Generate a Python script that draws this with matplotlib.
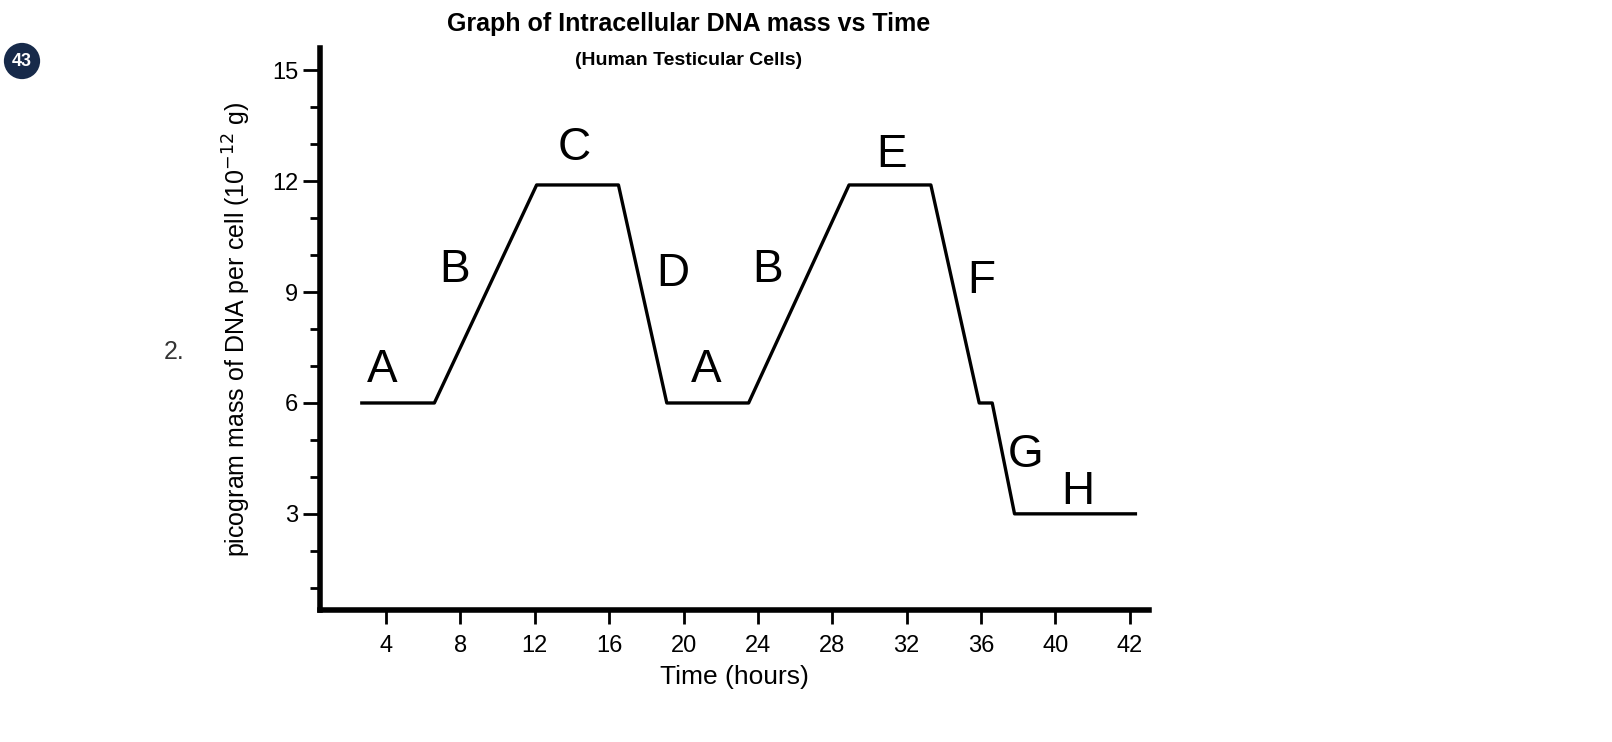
import matplotlib
matplotlib.use("Agg")
import matplotlib.pyplot as plt

plt.rcParams['font.family'] = ['Liberation Sans', 'DejaVu Sans']

time_h = [2.7, 6.6, 12.1, 16.5, 19.1, 23.5, 28.9, 33.3, 35.9, 36.6, 37.8, 44.3]
dna_pg = [6, 6, 11.9, 11.9, 6, 6, 11.9, 11.9, 6, 6, 3, 3]
xtick_pos = [4, 8, 12, 16, 20, 24, 28, 32, 36, 40, 44]
xtick_lab = ['4', '8', '12', '16', '20', '24', '28', '32', '36', '40', '42']
ytick_pos = [3, 6, 9, 12, 15]
phase_lab = ['A', 'B', 'C', 'D', 'A', 'B', 'E', 'F', 'G', 'H']
phase_x = [3.8, 7.7, 14.1, 19.4, 21.2, 24.5, 31.2, 36.0, 38.4, 41.2]
phase_y = [6.9, 9.6, 12.9, 9.5, 6.9, 9.6, 12.7, 9.3, 4.6, 3.6]

fig = plt.figure(figsize=(16.12, 7.42), dpi=100)
ax = fig.add_axes([0.1985, 0.178, 0.5145, 0.757])
ax.plot(time_h, dna_pg, color='black', lw=2.4)
for l, x, y in zip(phase_lab, phase_x, phase_y):
    ax.text(x, y, l, fontsize=33, ha='center', va='center')
ax.set_xlim(0.45, 45.05)
ax.set_ylim(0.4, 15.6)
ax.set_xticks(xtick_pos)
ax.set_xticklabels(xtick_lab, fontsize=17)
ax.set_yticks(ytick_pos)
ax.set_yticks([1, 2, 4, 5, 7, 8, 10, 11, 13, 14], minor=True)
ax.tick_params(axis='y', labelsize=17, length=12, width=2)
ax.tick_params(axis='y', which='minor', length=7, width=2)
ax.tick_params(axis='x', length=10, width=2, pad=8)
for s in ['top', 'right']:
    ax.spines[s].set_visible(False)
for s in ['left', 'bottom']:
    ax.spines[s].set_linewidth(4)
ax.set_xlabel('Time (hours)', fontsize=19, labelpad=6)
ax.set_ylabel('picogram mass of DNA per cell (10$^{-12}$ g)', fontsize=18, labelpad=14)

fig.text(0.427, 0.967, 'Graph of Intracellular DNA mass vs Time', fontsize=18, ha='center', va='center', fontweight='semibold')
fig.text(0.427, 0.918, '(Human Testicular Cells)', fontsize=14, ha='center', va='center', fontweight='bold')
fig.text(0.108, 0.525, '2.', fontsize=18, ha='center', va='center', color='#333333')
fig.text(22/1612, 1-61/742, '43', fontsize=13, ha='center', va='center', color='white', fontweight='bold',
         bbox=dict(boxstyle='circle,pad=0.45', fc='#172a4a', ec='none'))
fig.savefig('out.png', dpi=100)
